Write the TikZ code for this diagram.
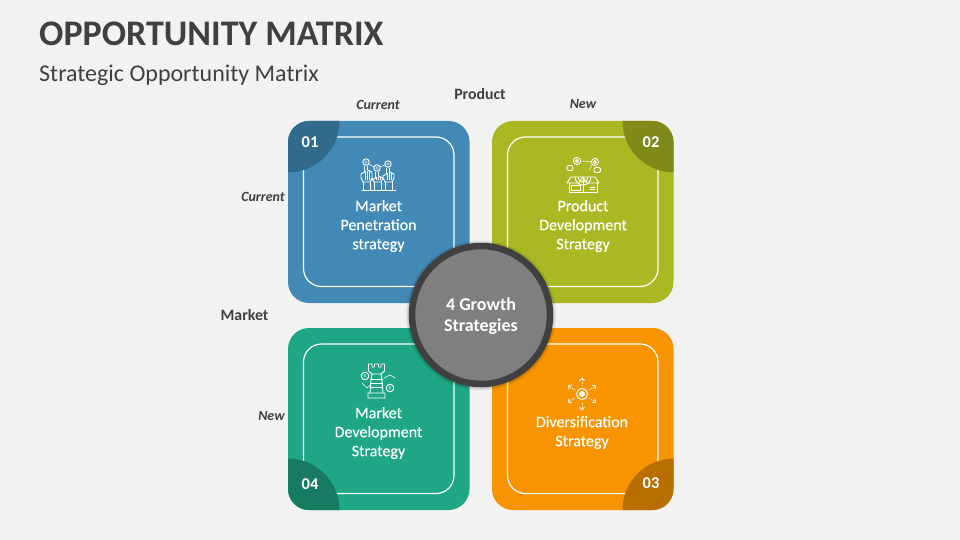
\documentclass[tikz,border=0pt]{standalone}
\usepackage{fontspec}
\setmainfont{Carlito}
\newfontfamily\tilefont[FakeBold=0.35]{Carlito}
\usepackage{xcolor}
\usetikzlibrary{arrows.meta}
\usetikzlibrary{calc}
\definecolor{pagegray}{HTML}{F2F2F2}
\definecolor{inkgray}{HTML}{404040}
\definecolor{hubgray}{HTML}{7F7F7F}
\definecolor{tileblue}{HTML}{4289B5}
\definecolor{tilegreen}{HTML}{A9B823}
\definecolor{tileteal}{HTML}{1EA685}
\definecolor{tileorange}{HTML}{F79400}
\definecolor{cornerblue}{HTML}{316A8D}
\definecolor{cornergreen}{HTML}{7F8A1A}
\definecolor{cornerteal}{HTML}{177B62}
\definecolor{cornerorange}{HTML}{B96E00}
\tikzset{
  axislabel/.style={text=inkgray,font=\fontsize{15.8}{18}\selectfont\bfseries},
  sublabel/.style={text=inkgray,font=\fontsize{14}{16}\selectfont\bfseries\itshape},
  tilelabel/.style={text=white,align=center,font=\fontsize{16}{19}\selectfont\tilefont},
  numlabel/.style={text=white,font=\fontsize{16.5}{18}\selectfont\bfseries},
  icon/.style={draw=white,line width=0.9pt,line cap=round,line join=round},
}
\begin{document}
\begin{tikzpicture}[x=1pt,y=-1pt]
    \useasboundingbox (0,0) rectangle (960,540);
    \fill[pagegray] (0,0) rectangle (960,540);

    % Title and subtitle
    \node[anchor=west,inner sep=0pt,text=inkgray,font=\fontsize{36}{40}\selectfont\bfseries] (title) at (39,34) {OPPORTUNITY MATRIX};
    \node[anchor=west,inner sep=0pt,text=inkgray,font=\fontsize{24}{28}\selectfont] (subtitle) at (39,75) {Strategic Opportunity Matrix};

    % The four tiles: left, top, colour, corner colour, corner point
    \foreach \x/\y/\tilecol/\cornercol/\cx/\cy in {
        288/121/tileblue/cornerblue/288/121,
        492/121/tilegreen/cornergreen/674/121,
        288/328/tileteal/cornerteal/288/510,
        492/328/tileorange/cornerorange/674/510}{
      \fill[\tilecol,rounded corners=21pt] (\x,\y) rectangle ++(181.5,182);
      \draw[white,line width=1.2pt,rounded corners=18pt] (\x+15.5,\y+16) rectangle ++(150.5,149.5);
      \begin{scope}
        \clip[rounded corners=21pt] (\x,\y) rectangle ++(181.5,182);
        \fill[\cornercol] (\cx,\cy) circle (51.5);
      \end{scope}
    }

    % Tile numbers
    \node[numlabel] (n01) at (310,142) {01};
    \node[numlabel] (n02) at (651,142) {02};
    \node[numlabel] (n03) at (651,483) {03};
    \node[numlabel] (n04) at (310,484) {04};

    % Tile texts
    \node[tilelabel] (penetration) at (378.5,226) {Market\\Penetration\\strategy};
    \node[tilelabel] (product) at (583,226) {Product\\Development\\Strategy};
    \node[tilelabel] (development) at (378.5,433) {Market\\Development\\Strategy};
    \node[tilelabel] (diversification) at (582,432.5) {Diversification\\Strategy};

    % Axis labels
    \node[axislabel] (productaxis) at (480,94.5) {Product};
    \node[axislabel] (marketaxis) at (244.5,315.5) {Market};
    \node[sublabel] (topcurrent) at (378,105) {Current};
    \node[sublabel] (topnew) at (583,104.5) {New};
    \node[sublabel] (leftcurrent) at (263,197) {Current};
    \node[sublabel] (leftnew) at (271.5,416.5) {New};

    % Hands icon
    \draw[icon] (362,190) -- (396,190);
    \foreach \hx/\hy/\hb in {366/162/190,377/168/190,388/164/190}{
      \draw[icon] (\hx,\hy) circle (3.2);
      \draw[icon,line width=0.4pt] (\hx,\hy) circle (1.3);
      \draw[icon] (\hx-1.5,\hy+4) -- (\hx-1.5,\hy+10) -- (\hx-5,\hy+12) -- (\hx-5,178) -- (\hx-3,182) -- (\hx+4,182) -- (\hx+6,178) -- (\hx+6,\hy+10) -- (\hx+1.5,\hy+8) -- (\hx+1.5,\hy+4);
      \draw[icon] (\hx-3,182) -- (\hx-3,\hb) (\hx+4,182) -- (\hx+4,\hb);
      \foreach \hh in {-0.5,1.5,3.5}{
        \draw[icon,line width=0.5pt] (\hx+\hh,\hy+9) -- (\hx+\hh,180);
      }
    }
    \draw[icon,line width=0.5pt] (368.5,164) -- (374.5,167) (380,167) -- (385,165);

    % Gears and box icon
    \foreach \gx/\gy in {577/161,595/162}{
      \draw[icon] (\gx,\gy) circle (3.6);
      \draw[icon] (\gx,\gy) circle (1.5);
    }
    \draw[icon,line width=0.5pt] (580.6,161) -- (591.4,161.8);
    \draw[icon] (575,177) arc (180:0:8) (578,177) arc (180:0:5);
    \draw[icon,line width=0.5pt] (589,170) -- (592,165);
    \draw[icon,rounded corners=1.5pt] (567,165.5) rectangle (573,170.5);
    \draw[icon,rounded corners=1.5pt] (594,167.5) rectangle (600.5,172.5);
    \draw[icon] (571,177) -- (583,177) -- (595,177) -- (599,183) -- (587,183) -- (583,177) -- (579,183) -- (567,183) -- cycle;
    \draw[icon] (569,183) -- (569,192) -- (597,192) -- (597,183) (583,179) -- (583,192);
    \draw[icon,line width=0.5pt] (571.5,185) rectangle (580,190);
    \draw[icon,line width=0.5pt] (590,187) -- (595,187) (590,189.5) -- (595,189.5);

    % Rook icon
    \draw[icon] (368,398) rectangle (385,393) (368.5,364) -- (368.5,371) -- (372,374) -- (381,374) -- (384.5,371) -- (384.5,364) -- (381,364) -- (381,367) -- (378.5,367) -- (378.5,364) -- (374.5,364) -- (374.5,367) -- (372,367) -- (372,364) -- cycle;
    \draw[icon] (372,374) -- (371,380) -- (370,393) (381,374) -- (382,380) -- (383,393);
    \foreach \ry in {379,383,387}{
      \draw[icon] (371,\ry) -- (382.5,\ry);
    }
    \foreach \rx/\ry in {365/376,390/388}{
      \draw[icon] (\rx,\ry) circle (3.8);
      \node[text=white,inner sep=0pt,font=\fontsize{5}{5}\selectfont] (coin\rx) at (\rx,\ry) {\$};
    }
    \draw[icon,line width=0.6pt] (362,383) -- (367,388) -- (370,385) (384,378) -- (390,375) -- (395,378);

    % Arrows icon
    \draw[icon,line width=1pt] (582,394) circle (5.6);
    \fill[white] (582,394) circle (3);
    \foreach \ang in {30,90,150,210,270,330}{
      \draw[white,line width=0.9pt,dash pattern=on 1pt off 1pt,-{Straight Barb[length=2.5pt,width=5pt]}] ($(582,394)+(\ang:8.5)$) -- ($(582,394)+(\ang:16.5)$);
    }

    % Hub: soft shadow first, then ring and text
    \foreach \sr in {75,74,73}{
      \fill[black,opacity=0.06] (481,315.5) circle (\sr);
    }
    \node[circle,draw=inkgray,line width=6.5pt,fill=hubgray,minimum size=138pt,inner sep=0pt] (hub) at (481,315) {};
    \node[text=white,align=center,font=\fontsize{18}{21.5}\selectfont\bfseries] (hubtext) at (481,316) {4 Growth\\Strategies};
\end{tikzpicture}
\end{document}
